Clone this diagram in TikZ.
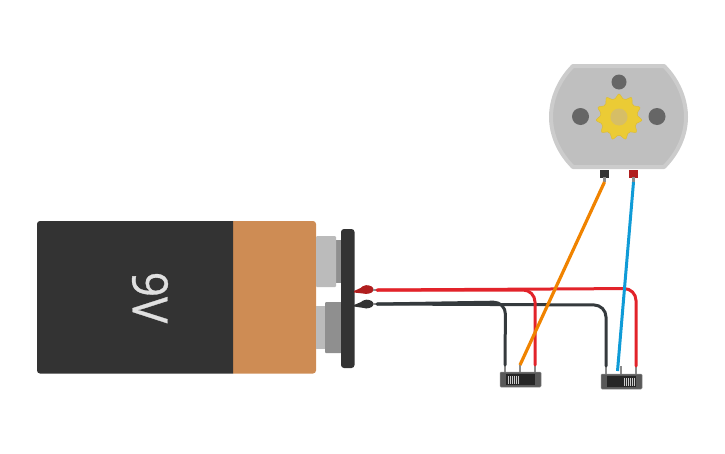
\documentclass[tikz,border=0pt]{standalone}
\usepackage{fontspec}
\setmainfont{Open Sans}
\newfontfamily\labelfont[FakeBold=0.7]{Open Sans}
\usetikzlibrary{shapes.geometric}
\definecolor{batdark}{HTML}{333333}
\definecolor{batcopper}{HTML}{CE8C54}
\definecolor{snaplight}{HTML}{BBBBBB}
\definecolor{snapdark}{HTML}{8F8F8F}
\definecolor{wirered}{HTML}{E2232A}
\definecolor{wiredark}{HTML}{353A3D}
\definecolor{wireorange}{HTML}{F08300}
\definecolor{wireblue}{HTML}{0F9BD7}
\definecolor{leadred}{HTML}{B01E1E}
\definecolor{pingray}{HTML}{8A8A8A}
\definecolor{gearyellow}{HTML}{EBCB35}
\definecolor{gearedge}{HTML}{DDBB30}
\definecolor{gearhub}{HTML}{D6BE66}
\begin{document}
\begin{tikzpicture}[x=1pt, y=-1pt,
      part/.style ={draw=none, inner sep = 0pt, outer sep = 0pt, anchor=north west},
      wire/.style ={line width=3pt, rounded corners=12pt, line cap=round},
      pin/.style ={line width=2.4pt, pingray},
      hole/.style ={circle, fill=black!60, inner sep = 0pt},
      stripe/.style ={white!80!black},
      lead/.style ={ellipse, inner sep = 0pt, minimum width=13pt, minimum height=8.5pt}]
   \useasboundingbox (0,0) rectangle (725,453);

   % motor
   \draw[draw=black!20, fill=black!25, line width=4pt, line join=round]
      (573,66) -- (664,66) .. controls (678,80) and (686,99) .. (686,117)
      .. controls (686,135) and (678,153) .. (664,167) -- (573,167)
      .. controls (559,153) and (551,135) .. (551,117)
      .. controls (551,99) and (559,80) .. (573,66) -- cycle;
   \node[hole, minimum size=17pt] (H1) at (580.5,116.5) {};
   \node[hole, minimum size=17pt] (H2) at (657,116.5) {};
   \node[hole, minimum size=15pt] (H3) at (619,82) {};
   \node[star, star points=11, star point ratio=1.38, minimum size=48pt, inner sep=0pt,
      fill=gearyellow, draw=gearedge, rounded corners=2pt] (G) at (619,117) {};
   \node[circle, minimum size=17pt, inner sep=0pt, fill=gearhub] (G1) at (619,117) {};

   % motor terminals
   \node[part, fill=batdark, minimum width=9pt, minimum height=8pt] (M1) at (600,169.5) {};
   \node[part, fill=leadred, minimum width=9pt, minimum height=8pt] (M2) at (629,169.5) {};
   \coordinate (M1a) at (604.5,177);
   \coordinate (M1b) at (604.5,182);
   \coordinate (M2a) at (633.5,177);
   \coordinate (M2b) at (633.5,182);
   \draw[pin] (M1a) to (M1b);
   \draw[pin] (M2a) to (M2b);

   % battery
   \fill[batcopper] (233,221) [rounded corners=3pt] -- (316,221) -- (316,373.5) [sharp corners] -- (233,373.5) -- cycle;
   \fill[batdark] (233,221) [rounded corners=3pt] -- (37,221) -- (37,373.5) [sharp corners] -- (233,373.5) -- cycle;
   \node[part, fill=snapdark, minimum width=7pt, minimum height=43pt] (S2) at (335,240) {};
   \node[part, fill=snaplight, minimum width=20pt, minimum height=51pt, rounded corners=1pt] (S1) at (316,236) {};
   \node[part, fill=snaplight, minimum width=10pt, minimum height=43pt] (S3) at (316,306) {};
   \node[part, fill=snapdark, minimum width=17pt, minimum height=51pt, rounded corners=1pt] (S4) at (325,302) {};
   \node[part, fill=batdark, minimum width=13.5pt, minimum height=139pt, rounded corners=3pt] (P) at (341,229) {};
   \node[rotate=-90, text=black!12, font=\labelfont\fontsize{49}{49}\selectfont, xscale=0.9] (V) at (150,297.5) {9V};

   % battery leads
   \node[lead, fill=leadred] (L1) at (367,289.5) {};
   \node[lead, fill=batdark] (L2) at (367,304) {};
   \coordinate (L1a) at (373,290);
   \coordinate (L1b) at (377,290);
   \coordinate (L2a) at (373,304);
   \coordinate (L2b) at (377,304);
   \fill[leadred] (354,291) -- (L1.north) -- (L1.south) -- (354,292.5) -- cycle;
   \fill[batdark] (354,305) -- (L2.north) -- (L2.south) -- (354,306.5) -- cycle;
   \draw[pin] (L1a) to (L1b);
   \draw[pin] (L2a) to (L2b);

   % switches
   \node[part, fill=black!65, draw=black!45, line width=.5pt, minimum width=41pt, minimum height=15pt, rounded corners=1pt] (SW1) at (500,372) {};
   \node[part, fill=black!85, minimum width=29pt, minimum height=11pt] (SW1i) at (506,374) {};
   \foreach \i in {0,2,...,10} \fill[stripe] (507.5+\i,375.5) rectangle (508.5+\i,383.5);
   \node[part, fill=black!65, draw=black!45, line width=.5pt, minimum width=41pt, minimum height=15pt, rounded corners=1pt] (SW2) at (601,374) {};
   \node[part, fill=black!85, minimum width=29pt, minimum height=11pt] (SW2i) at (607,376) {};
   \foreach \i in {0,2,...,10} \fill[stripe] (624+\i,377.5) rectangle (625+\i,385.5);

   \foreach \x/\name in {505/A, 520/B, 535/C} {
      \coordinate (\name a) at (\x,372);
      \coordinate (\name b) at (\x,365);
      \draw[pin] (\name a) to (\name b);
   }
   \foreach \x/\name in {606/D, 621/E, 636/F} {
      \coordinate (\name a) at (\x,374);
      \coordinate (\name b) at (\x,366);
      \draw[pin] (\name a) to (\name b);
   }
   \coordinate (Eb2) at (617.5,371);

   % wires
   \draw[wire, wiredark] (L2b) -- (505.5,302) -- (Ab);
   \draw[wire, wiredark] (L2b) -- (606,305) -- (Db);
   \draw[wire, wirered] (L1b) -- (535,290) -- (Cb);
   \draw[wire, wirered] (L1b) -- (636,288.5) -- (Fb);
   \draw[line width=3.2pt, wireorange] (Bb) to (M1b);
   \draw[line width=3pt, wireblue] (Eb2) to (M2b);
\end{tikzpicture}
\end{document}
